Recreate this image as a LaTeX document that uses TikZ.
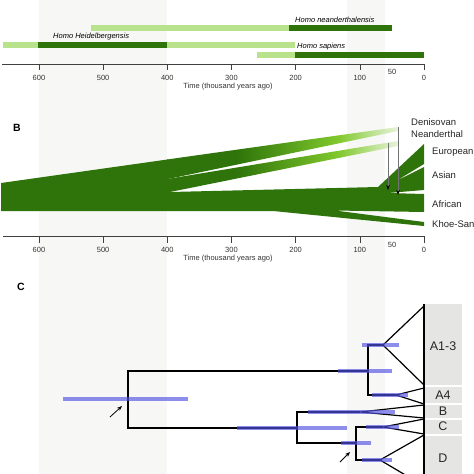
\documentclass[tikz,border=0pt]{standalone}
\usepackage{fontspec}
\setmainfont{Liberation Sans}
\usetikzlibrary{arrows.meta}
\definecolor{darkgr}{RGB}{46,116,10}
\definecolor{lightgr}{RGB}{184,226,140}
\definecolor{midgr}{RGB}{128,200,44}
\definecolor{palegr}{RGB}{232,244,220}
\definecolor{bandgr}{RGB}{247,248,246}
\definecolor{boxgr}{RGB}{229,229,227}
\definecolor{hpdblue}{RGB}{80,80,225}
\pgfdeclarehorizontalshading{archaic}{100bp}{color(0bp)=(darkgr); color(40bp)=(darkgr); color(62bp)=(midgr); color(75bp)=(palegr); color(100bp)=(palegr)}
\begin{document}
\begin{tikzpicture}[x=1pt,y=-1pt,
  tick/.style={font=\fontsize{7.5}{9}\selectfont,text=black!80},
  axlabel/.style={font=\fontsize{7.5}{9}\selectfont,text=black!80},
  species/.style={font=\fontsize{7.5}{9}\selectfont\itshape,anchor=west,inner sep=0pt},
  pop/.style={font=\fontsize{9.5}{11}\selectfont,anchor=west,inner sep=0pt,text=black!85},
  panel/.style={font=\fontsize{10.5}{12}\selectfont\bfseries},
  clade/.style={font=\fontsize{12.5}{14}\selectfont,text=black!85},
  axis/.style={line width=0.6pt,draw=black!75},
  branch/.style={line width=1.2pt},
  hpd/.style={fill=hpdblue,fill opacity=0.65},
  admix/.style={draw=black!55,line width=0.5pt,-{Stealth[length=5pt,width=3.5pt,black]}},
  pointer/.style={line width=0.8pt,-{Stealth[length=5pt,width=4pt]}}]
\useasboundingbox (0,0) rectangle (474,474);
% time windows
\fill[bandgr] (39,0) rectangle (167,474);
\fill[bandgr] (347,0) rectangle (385,474);

% A: species
\fill[lightgr] (91,25) rectangle (289,31);
\fill[darkgr] (289,25) rectangle (392,31);
\fill[lightgr] (3,42) rectangle (38,48);
\fill[darkgr] (38,42) rectangle (167,48);
\fill[lightgr] (167,42) rectangle (295,48);
\fill[lightgr] (257,52) rectangle (295,58);
\fill[darkgr] (295,52) rectangle (424,58);
\node[species] (nea) at (295,20) {Homo neanderthalensis};
\node[species] (hei) at (53,37) {Homo Heidelbergensis};
\node[species] (sap) at (297,47) {Homo sapiens};
\draw[axis] (2,64) -- (424,64);
\foreach \t in {0,100,...,600}{
  \draw[axis] ({424-0.6417*\t},64) -- ++(0,6);
  \node[tick] (ta\t) at ({424-0.6417*\t},78) {\t};}
\node[tick] (ta50) at (392,72) {50};
\node[axlabel] (timea) at (228,87) {Time (thousand years ago)};

% B: population tree
\node[panel] (pb) at (17,128) {B};
\fill[darkgr] (1,183) -- (168,159.4) -- (168,179) -- (170,192) -- (378,187)
  -- (424,144) -- (424,164) -- (396,181) -- (424,167) -- (424,190)
  -- (388,193) -- (424,194) -- (424,212) -- (335,210.5) -- (424,222)
  -- (424,226) -- (273,211) -- (1,211) -- cycle;
\shade[shading=archaic] (167,159.5) -- (398,127) -- (398,131) -- (167,179.2) -- cycle;
\shade[shading=archaic] (167,179) -- (398,141) -- (398,146) -- (169,192.2) -- cycle;
\coordinate (dentip) at (398,127);
\coordinate (neatip) at (388,142.6);
\coordinate (denin) at (398,195);
\coordinate (neain) at (388,190);
\draw[admix] (dentip) -- (denin);
\draw[admix] (neatip) -- (neain);
\node[pop] (den) at (411,122) {Denisovan};
\node[pop] (neand) at (411,134) {Neanderthal};
\node[pop] (eur) at (432,152) {European};
\node[pop] (asi) at (432,175) {Asian};
\node[pop] (afr) at (432,204) {African};
\node[pop] (khs) at (432,224) {Khoe-San};
\draw[axis] (3,236) -- (424,236);
\foreach \t in {0,100,...,600}{
  \draw[axis] ({424-0.6417*\t},236) -- ++(0,7);
  \node[tick] (tb\t) at ({424-0.6417*\t},250) {\t};}
\node[tick] (tb50) at (392,245) {50};
\node[axlabel] (timeb) at (228,259) {Time (thousand years ago)};

% C: mtDNA tree
\node[panel] (pc) at (21,287) {C};
\fill[boxgr] (424,304) rectangle (462,480);
\foreach \y in {386,404,419,435}
  \draw[white,line width=1.2pt] (424,\y) -- (462,\y);
\draw[line width=1.2pt] (424,304) -- (424,480);
\node[clade] (ca13) at (443,346) {A1-3};
\node[clade] (ca4) at (443,395) {A4};
\node[clade] (cb) at (443,411.5) {B};
\node[clade] (cc) at (443,426.5) {C};
\node[clade] (cd) at (443,458) {D};

\coordinate (root) at (128,399);
\coordinate (nA) at (368,371);
\coordinate (a13) at (383,345);
\coordinate (a4) at (396,395);
\coordinate (nBCD) at (297,428);
\coordinate (b) at (360,412);
\coordinate (nCD) at (356,443);
\coordinate (c) at (383,427);
\coordinate (d) at (380,460);
\draw[branch] (root) |- (nA);
\draw[branch] (root) |- (nBCD);
\draw[branch] (nA) |- (a13);
\draw[branch] (nA) |- (a4);
\draw[branch] (nBCD) |- (b);
\draw[branch] (nBCD) |- (nCD);
\draw[branch] (nCD) |- (c);
\draw[branch] (nCD) |- (d);
\draw[branch] (424,306) -- (a13) -- (424,385);
\draw[branch] (424,388) -- (a4) -- (424,404);
\draw[branch] (424,405) -- (b) -- (424,418);
\draw[branch] (424,419) -- (c) -- (424,434);
\draw[branch] (424,435) -- (d) -- (424,486);

% node age intervals
\fill[hpd] (63,397) rectangle (188,401);
\fill[hpd] (338,369) rectangle (392,373);
\fill[hpd] (362,343) rectangle (399,347);
\fill[hpd] (372,393) rectangle (408,397);
\fill[hpd] (237,426) rectangle (347,430);
\fill[hpd] (308,410) rectangle (395,414);
\fill[hpd] (341,441) rectangle (371,445);
\fill[hpd] (366,425) rectangle (399,429);
\fill[hpd] (362,458) rectangle (392,462);

\coordinate (p1) at (110,417);
\coordinate (p2) at (340,462);
\draw[pointer] (p1) -- ++(12,-11);
\draw[pointer] (p2) -- ++(10,-10);
\end{tikzpicture}
\end{document}
